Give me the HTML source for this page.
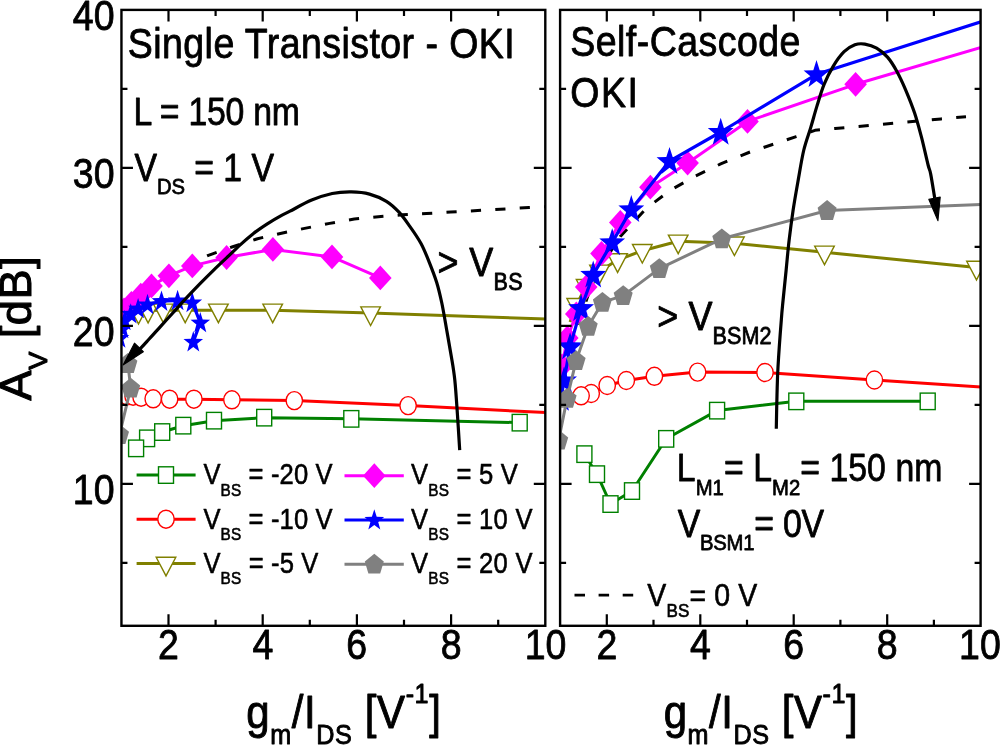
<!DOCTYPE html><html><head><meta charset="utf-8"><title>Av vs gm/IDS</title>
<style>html,body{margin:0;padding:0;background:#fff}svg{display:block}text{font-family:'Liberation Sans', Arial, sans-serif;fill:#000;stroke:#000;stroke-linejoin:round;white-space:pre}</style></head><body>
<svg width="1000" height="747" viewBox="0 0 1000 747">
<rect width="1000" height="747" fill="#fff"/>
<defs><clipPath id="c1"><rect x="121.45" y="9.9" width="423.84999999999997" height="615.9"/></clipPath><clipPath id="c2"><rect x="560.1" y="9.9" width="420.5" height="615.9"/></clipPath></defs>
<g clip-path="url(#c1)">
<polyline points="122.0,331.0 128.0,322.0 134.0,311.0 142.0,297.0 156.0,281.0 180.0,268.0 208.4,255.3 232.0,247.0 257.5,238.7 281.5,233.2 304.6,228.4 329.7,223.4 354.3,219.0 378.4,216.7 402.5,214.8 426.6,213.6 450.7,212.1 470.0,211.0 529.0,207.5 546.0,206.7" fill="none" stroke="#000" stroke-width="3" stroke-dasharray="10.2 14.25" stroke-dashoffset="4.56" stroke-linejoin="round"/>
<polyline points="123.0,322.0 127.0,316.0 133.0,313.0 138.5,311.5 148.1,310.5 163.3,310.3 185.2,310.3 218.4,310.3 272.7,310.3 370.6,313.1 546.0,318.9" fill="none" stroke="#808000" stroke-width="3.0" stroke-linejoin="round"/>
<polygon points="128.7,305.3 148.3,305.3 138.5,323.9" fill="#fff" stroke="#808000" stroke-width="1.4"/>
<polygon points="138.3,304.3 157.9,304.3 148.1,322.9" fill="#fff" stroke="#808000" stroke-width="1.4"/>
<polygon points="153.5,304.1 173.1,304.1 163.3,322.7" fill="#fff" stroke="#808000" stroke-width="1.4"/>
<polygon points="175.4,304.1 195.0,304.1 185.2,322.7" fill="#fff" stroke="#808000" stroke-width="1.4"/>
<polygon points="208.6,304.1 228.2,304.1 218.4,322.7" fill="#fff" stroke="#808000" stroke-width="1.4"/>
<polygon points="262.9,304.1 282.5,304.1 272.7,322.7" fill="#fff" stroke="#808000" stroke-width="1.4"/>
<polygon points="360.8,306.9 380.4,306.9 370.6,325.5" fill="#fff" stroke="#808000" stroke-width="1.4"/>
<polyline points="136.1,448.4 147.1,438.4 162.2,432.0 183.3,425.7 214.0,420.7 264.2,417.7 351.3,418.8 519.7,422.6" fill="none" stroke="#008000" stroke-width="3.0" stroke-linejoin="round"/>
<rect x="139.6" y="430.1" width="15" height="16.5" fill="#fff" stroke="#008000" stroke-width="1.4"/>
<rect x="128.6" y="440.1" width="15" height="16.5" fill="#fff" stroke="#008000" stroke-width="1.4"/>
<rect x="154.7" y="423.8" width="15" height="16.5" fill="#fff" stroke="#008000" stroke-width="1.4"/>
<rect x="175.8" y="417.4" width="15" height="16.5" fill="#fff" stroke="#008000" stroke-width="1.4"/>
<rect x="206.5" y="412.4" width="15" height="16.5" fill="#fff" stroke="#008000" stroke-width="1.4"/>
<rect x="256.7" y="409.4" width="15" height="16.5" fill="#fff" stroke="#008000" stroke-width="1.4"/>
<rect x="343.8" y="410.6" width="15" height="16.5" fill="#fff" stroke="#008000" stroke-width="1.4"/>
<rect x="512.2" y="414.4" width="15" height="16.5" fill="#fff" stroke="#008000" stroke-width="1.4"/>
<polyline points="127.0,395.8 133.1,396.2 141.1,397.2 153.2,398.8 169.6,399.2 193.9,399.2 231.9,399.8 294.3,400.6 408.1,405.6 546.0,412.6" fill="none" stroke="#ff0000" stroke-width="3.0" stroke-linejoin="round"/>
<ellipse cx="127.0" cy="395.8" rx="8.2" ry="9.02" fill="#fff" stroke="#ff0000" stroke-width="1.4"/>
<ellipse cx="133.1" cy="396.2" rx="8.2" ry="9.02" fill="#fff" stroke="#ff0000" stroke-width="1.4"/>
<ellipse cx="141.1" cy="397.2" rx="8.2" ry="9.02" fill="#fff" stroke="#ff0000" stroke-width="1.4"/>
<ellipse cx="153.2" cy="398.8" rx="8.2" ry="9.02" fill="#fff" stroke="#ff0000" stroke-width="1.4"/>
<ellipse cx="169.6" cy="399.2" rx="8.2" ry="9.02" fill="#fff" stroke="#ff0000" stroke-width="1.4"/>
<ellipse cx="193.9" cy="399.2" rx="8.2" ry="9.02" fill="#fff" stroke="#ff0000" stroke-width="1.4"/>
<ellipse cx="231.9" cy="399.8" rx="8.2" ry="9.02" fill="#fff" stroke="#ff0000" stroke-width="1.4"/>
<ellipse cx="294.3" cy="400.6" rx="8.2" ry="9.02" fill="#fff" stroke="#ff0000" stroke-width="1.4"/>
<ellipse cx="408.1" cy="405.6" rx="8.2" ry="9.02" fill="#fff" stroke="#ff0000" stroke-width="1.4"/>
<polyline points="120.0,315.0 124.0,310.0 131.4,303.3 140.8,295.2 151.5,285.9 168.9,275.8 192.3,265.9 226.6,257.5 272.9,249.4 332.0,256.9 380.3,277.9" fill="none" stroke="#ff00ff" stroke-width="3.0" stroke-linejoin="round"/>
<polygon points="120.0,302.6 131.3,315.0 120.0,327.4 108.7,315.0" fill="#ff00ff"/>
<polygon points="124.0,297.6 135.3,310.0 124.0,322.4 112.7,310.0" fill="#ff00ff"/>
<polygon points="131.4,290.9 142.7,303.3 131.4,315.7 120.1,303.3" fill="#ff00ff"/>
<polygon points="140.8,282.8 152.1,295.2 140.8,307.6 129.5,295.2" fill="#ff00ff"/>
<polygon points="151.5,273.5 162.8,285.9 151.5,298.3 140.2,285.9" fill="#ff00ff"/>
<polygon points="168.9,263.4 180.2,275.8 168.9,288.2 157.6,275.8" fill="#ff00ff"/>
<polygon points="192.3,253.5 203.6,265.9 192.3,278.3 181.0,265.9" fill="#ff00ff"/>
<polygon points="226.6,245.1 237.9,257.5 226.6,269.9 215.3,257.5" fill="#ff00ff"/>
<polygon points="272.9,237.0 284.2,249.4 272.9,261.8 261.6,249.4" fill="#ff00ff"/>
<polygon points="332.0,244.5 343.3,256.9 332.0,269.3 320.7,256.9" fill="#ff00ff"/>
<polygon points="380.3,265.5 391.6,277.9 380.3,290.3 369.0,277.9" fill="#ff00ff"/>
<polyline points="119.5,338.0 122.5,328.5 124.7,320.5 130.7,313.9 138.1,308.6 147.5,304.5 161.5,301.2 177.6,300.5 192.3,302.5 200.3,322.6 193.3,341.8" fill="none" stroke="#0000ff" stroke-width="3.2" stroke-linejoin="round"/>
<polygon points="119.5,327.3 121.9,334.9 129.3,335.1 123.4,340.0 125.5,347.7 119.5,343.1 113.5,347.7 115.6,340.0 109.7,335.1 117.1,334.9" fill="#0000ff"/>
<polygon points="122.5,317.8 124.9,325.4 132.3,325.6 126.4,330.5 128.5,338.2 122.5,333.6 116.5,338.2 118.6,330.5 112.7,325.6 120.1,325.4" fill="#0000ff"/>
<polygon points="124.7,309.8 127.1,317.4 134.5,317.6 128.6,322.5 130.7,330.2 124.7,325.6 118.7,330.2 120.8,322.5 114.9,317.6 122.3,317.4" fill="#0000ff"/>
<polygon points="130.7,303.2 133.1,310.8 140.5,311.0 134.6,315.9 136.7,323.6 130.7,319.0 124.7,323.6 126.8,315.9 120.9,311.0 128.3,310.8" fill="#0000ff"/>
<polygon points="138.1,297.9 140.5,305.5 147.9,305.7 142.0,310.6 144.1,318.3 138.1,313.7 132.1,318.3 134.2,310.6 128.3,305.7 135.7,305.5" fill="#0000ff"/>
<polygon points="147.5,293.8 149.9,301.4 157.3,301.6 151.4,306.5 153.5,314.2 147.5,309.6 141.5,314.2 143.6,306.5 137.7,301.6 145.1,301.4" fill="#0000ff"/>
<polygon points="161.5,290.5 163.9,298.1 171.3,298.3 165.4,303.2 167.5,310.9 161.5,306.3 155.5,310.9 157.6,303.2 151.7,298.3 159.1,298.1" fill="#0000ff"/>
<polygon points="177.6,289.8 180.0,297.4 187.4,297.6 181.5,302.5 183.6,310.2 177.6,305.6 171.6,310.2 173.7,302.5 167.8,297.6 175.2,297.4" fill="#0000ff"/>
<polygon points="192.3,291.8 194.7,299.4 202.1,299.6 196.2,304.5 198.3,312.2 192.3,307.6 186.3,312.2 188.4,304.5 182.5,299.6 189.9,299.4" fill="#0000ff"/>
<polygon points="200.3,311.9 202.7,319.5 210.1,319.7 204.2,324.6 206.3,332.3 200.3,327.7 194.3,332.3 196.4,324.6 190.5,319.7 197.9,319.5" fill="#0000ff"/>
<polygon points="193.3,331.1 195.7,338.7 203.1,338.9 197.2,343.8 199.3,351.5 193.3,346.9 187.3,351.5 189.4,343.8 183.5,338.9 190.9,338.7" fill="#0000ff"/>
<polyline points="119.5,434.5 130.7,388.2 127.9,363.5" fill="none" stroke="#808080" stroke-width="3.0" stroke-linejoin="round"/>
<polygon points="119.5,424.1 129.0,431.7 125.4,443.9 113.6,443.9 110.0,431.7" fill="#808080"/>
<polygon points="130.7,377.8 140.2,385.4 136.6,397.6 124.8,397.6 121.2,385.4" fill="#808080"/>
<polygon points="127.9,353.1 137.4,360.7 133.8,372.9 122.0,372.9 118.4,360.7" fill="#808080"/>
</g>
<path d="M459.7,450.1 C459.3,444.1 458.2,425.7 457.4,414.0 C456.6,402.3 455.8,389.5 454.8,380.0 C453.8,370.5 452.8,365.3 451.4,357.0 C450.0,348.7 448.3,339.1 446.7,330.0 C445.1,320.9 443.4,310.4 441.7,302.5 C440.0,294.6 438.8,289.1 436.7,282.4 C434.6,275.7 431.9,268.8 429.3,262.3 C426.7,255.8 424.2,249.4 421.0,243.5 C417.8,237.6 413.7,231.8 410.0,226.6 C406.3,221.4 402.9,216.4 399.0,212.2 C395.1,208.0 391.3,204.3 386.4,201.3 C381.5,198.3 375.3,195.7 369.5,194.1 C363.7,192.5 357.6,192.0 351.4,191.9 C345.2,191.8 338.8,192.1 332.2,193.5 C325.6,194.9 318.7,197.2 311.7,200.1 C304.7,203.0 295.2,208.5 290.0,211.2 C284.8,213.9 284.2,213.9 280.3,216.1 C276.4,218.2 271.4,221.2 266.9,224.1 C262.4,227.0 257.9,230.0 253.5,233.5 C249.1,237.0 244.6,240.9 240.2,244.9 C235.8,248.9 231.3,253.4 226.8,257.6 C222.3,261.8 217.8,266.0 213.4,270.3 C209.0,274.6 204.7,278.9 200.3,283.4 C195.9,287.9 191.4,292.6 186.9,297.4 C182.4,302.2 177.9,307.3 173.5,312.2 C169.1,317.1 164.6,322.0 160.2,326.9 C155.8,331.8 150.2,337.8 146.8,341.6 C143.4,345.4 140.7,348.2 139.5,349.5" fill="none" stroke="#000" stroke-width="3.2"/>
<polygon points="123.3,364.8 134.5,343.2 143.3,351.8" stroke="#000" stroke-width="1.2" stroke-linejoin="round" fill="#000"/>
<g clip-path="url(#c2)">
<polyline points="561.0,392.0 566.0,370.0 572.0,345.0 580.0,318.0 590.0,290.0 600.0,268.0 620.3,236.4 646.4,208.2 670.5,190.2 694.6,176.5 720.7,163.9 750.0,152.0 775.0,143.7 796.2,136.6 815.0,130.3 835.1,128.5 883.0,124.2 941.0,118.9 966.0,116.7" fill="none" stroke="#000" stroke-width="3" stroke-dasharray="10.2 14.3" stroke-dashoffset="3.98" stroke-linejoin="round"/>
<polyline points="570.0,322.0 576.7,304.7 586.1,285.7 599.5,271.3 617.6,260.0 642.3,250.7 678.2,241.3 734.4,243.2 824.5,252.3 976.5,267.5" fill="none" stroke="#808000" stroke-width="3.0" stroke-linejoin="round"/>
<polygon points="566.9,298.5 586.5,298.5 576.7,317.1" fill="#fff" stroke="#808000" stroke-width="1.4"/>
<polygon points="576.3,279.5 595.9,279.5 586.1,298.1" fill="#fff" stroke="#808000" stroke-width="1.4"/>
<polygon points="589.7,265.1 609.3,265.1 599.5,283.7" fill="#fff" stroke="#808000" stroke-width="1.4"/>
<polygon points="607.8,253.8 627.4,253.8 617.6,272.4" fill="#fff" stroke="#808000" stroke-width="1.4"/>
<polygon points="632.5,244.5 652.1,244.5 642.3,263.1" fill="#fff" stroke="#808000" stroke-width="1.4"/>
<polygon points="668.4,235.1 688.0,235.1 678.2,253.7" fill="#fff" stroke="#808000" stroke-width="1.4"/>
<polygon points="724.6,237.0 744.2,237.0 734.4,255.6" fill="#fff" stroke="#808000" stroke-width="1.4"/>
<polygon points="814.7,246.1 834.3,246.1 824.5,264.7" fill="#fff" stroke="#808000" stroke-width="1.4"/>
<polygon points="966.7,261.3 986.3,261.3 976.5,279.9" fill="#fff" stroke="#808000" stroke-width="1.4"/>
<polyline points="584.4,454.2 597.0,474.2 610.5,504.0 632.0,491.0 666.2,438.8 717.1,410.6 796.3,401.3 927.7,401.3" fill="none" stroke="#008000" stroke-width="3.0" stroke-linejoin="round"/>
<rect x="576.9" y="445.9" width="15" height="16.5" fill="#fff" stroke="#008000" stroke-width="1.4"/>
<rect x="589.5" y="465.9" width="15" height="16.5" fill="#fff" stroke="#008000" stroke-width="1.4"/>
<rect x="603.0" y="495.8" width="15" height="16.5" fill="#fff" stroke="#008000" stroke-width="1.4"/>
<rect x="624.5" y="482.8" width="15" height="16.5" fill="#fff" stroke="#008000" stroke-width="1.4"/>
<rect x="658.7" y="430.6" width="15" height="16.5" fill="#fff" stroke="#008000" stroke-width="1.4"/>
<rect x="709.6" y="402.4" width="15" height="16.5" fill="#fff" stroke="#008000" stroke-width="1.4"/>
<rect x="788.8" y="393.1" width="15" height="16.5" fill="#fff" stroke="#008000" stroke-width="1.4"/>
<rect x="920.2" y="393.1" width="15" height="16.5" fill="#fff" stroke="#008000" stroke-width="1.4"/>
<polyline points="567.0,399.0 581.1,395.8 591.2,393.5 607.2,385.5 626.3,380.5 654.4,376.3 697.6,372.1 765.0,372.5 874.4,380.0 981.0,387.0" fill="none" stroke="#ff0000" stroke-width="3.0" stroke-linejoin="round"/>
<ellipse cx="874.4" cy="380.0" rx="8.2" ry="9.02" fill="#fff" stroke="#ff0000" stroke-width="1.4"/>
<ellipse cx="765.0" cy="372.5" rx="8.2" ry="9.02" fill="#fff" stroke="#ff0000" stroke-width="1.4"/>
<ellipse cx="697.6" cy="372.1" rx="8.2" ry="9.02" fill="#fff" stroke="#ff0000" stroke-width="1.4"/>
<ellipse cx="654.4" cy="376.3" rx="8.2" ry="9.02" fill="#fff" stroke="#ff0000" stroke-width="1.4"/>
<ellipse cx="626.3" cy="380.5" rx="8.2" ry="9.02" fill="#fff" stroke="#ff0000" stroke-width="1.4"/>
<ellipse cx="607.2" cy="385.5" rx="8.2" ry="9.02" fill="#fff" stroke="#ff0000" stroke-width="1.4"/>
<ellipse cx="591.2" cy="393.5" rx="8.2" ry="9.02" fill="#fff" stroke="#ff0000" stroke-width="1.4"/>
<ellipse cx="581.1" cy="395.8" rx="8.2" ry="9.02" fill="#fff" stroke="#ff0000" stroke-width="1.4"/>
<polyline points="562.0,366.0 567.3,338.0 576.3,314.0 586.2,287.0 601.5,253.5 620.3,222.4 650.4,187.2 687.6,163.1 747.5,121.4 855.6,84.3 981.0,47.5" fill="none" stroke="#ff00ff" stroke-width="3.0" stroke-linejoin="round"/>
<polygon points="562.0,353.6 573.3,366.0 562.0,378.4 550.7,366.0" fill="#ff00ff"/>
<polygon points="567.3,325.6 578.6,338.0 567.3,350.4 556.0,338.0" fill="#ff00ff"/>
<polygon points="576.3,301.6 587.6,314.0 576.3,326.4 565.0,314.0" fill="#ff00ff"/>
<polygon points="586.2,274.6 597.5,287.0 586.2,299.4 574.9,287.0" fill="#ff00ff"/>
<polygon points="601.5,241.1 612.8,253.5 601.5,265.9 590.2,253.5" fill="#ff00ff"/>
<polygon points="620.3,210.0 631.6,222.4 620.3,234.8 609.0,222.4" fill="#ff00ff"/>
<polygon points="650.4,174.8 661.7,187.2 650.4,199.6 639.1,187.2" fill="#ff00ff"/>
<polygon points="687.6,150.7 698.9,163.1 687.6,175.5 676.3,163.1" fill="#ff00ff"/>
<polygon points="747.5,109.0 758.8,121.4 747.5,133.8 736.2,121.4" fill="#ff00ff"/>
<polygon points="855.6,71.9 866.9,84.3 855.6,96.7 844.3,84.3" fill="#ff00ff"/>
<polyline points="561.0,398.0 564.1,380.5 570.1,346.4 581.1,308.2 593.2,274.8 612.2,242.4 631.3,209.3 669.5,161.1 720.7,132.0 816.5,74.3 981.0,21.8" fill="none" stroke="#0000ff" stroke-width="3.2" stroke-linejoin="round"/>
<polygon points="561.0,383.8 564.2,393.9 573.9,394.1 566.2,400.6 569.0,410.8 561.0,404.7 553.0,410.8 555.8,400.6 548.1,394.1 557.8,393.9" fill="#0000ff"/>
<polygon points="564.1,366.3 567.3,376.4 577.0,376.6 569.3,383.1 572.1,393.3 564.1,387.2 556.1,393.3 558.9,383.1 551.2,376.6 560.9,376.4" fill="#0000ff"/>
<polygon points="570.1,332.2 573.3,342.3 583.0,342.5 575.3,349.0 578.1,359.2 570.1,353.1 562.1,359.2 564.9,349.0 557.2,342.5 566.9,342.3" fill="#0000ff"/>
<polygon points="581.1,294.0 584.3,304.1 594.0,304.3 586.3,310.8 589.1,321.0 581.1,314.9 573.1,321.0 575.9,310.8 568.2,304.3 577.9,304.1" fill="#0000ff"/>
<polygon points="593.2,260.6 596.4,270.7 606.1,270.9 598.4,277.4 601.2,287.6 593.2,281.5 585.2,287.6 588.0,277.4 580.3,270.9 590.0,270.7" fill="#0000ff"/>
<polygon points="612.2,228.2 615.4,238.3 625.1,238.5 617.4,245.0 620.2,255.2 612.2,249.1 604.2,255.2 607.0,245.0 599.3,238.5 609.0,238.3" fill="#0000ff"/>
<polygon points="631.3,195.1 634.5,205.2 644.2,205.4 636.5,211.9 639.3,222.1 631.3,216.0 623.3,222.1 626.1,211.9 618.4,205.4 628.1,205.2" fill="#0000ff"/>
<polygon points="669.5,146.9 672.7,157.0 682.4,157.2 674.7,163.7 677.5,173.9 669.5,167.8 661.5,173.9 664.3,163.7 656.6,157.2 666.3,157.0" fill="#0000ff"/>
<polygon points="720.7,117.8 723.9,127.9 733.6,128.1 725.9,134.6 728.7,144.8 720.7,138.7 712.7,144.8 715.5,134.6 707.8,128.1 717.5,127.9" fill="#0000ff"/>
<polygon points="816.5,60.1 819.7,70.2 829.4,70.4 821.7,76.9 824.5,87.1 816.5,81.0 808.5,87.1 811.3,76.9 803.6,70.4 813.3,70.2" fill="#0000ff"/>
<polyline points="558.7,440.2 567.1,398.4 576.1,360.7 588.2,326.3 602.4,302.4 623.2,295.6 659.3,268.6 721.8,238.8 827.1,210.5 981.0,204.5" fill="none" stroke="#808080" stroke-width="3.0" stroke-linejoin="round"/>
<polygon points="558.7,429.8 568.2,437.4 564.6,449.6 552.8,449.6 549.2,437.4" fill="#808080"/>
<polygon points="567.1,388.0 576.6,395.6 573.0,407.8 561.2,407.8 557.6,395.6" fill="#808080"/>
<polygon points="576.1,350.3 585.6,357.9 582.0,370.1 570.2,370.1 566.6,357.9" fill="#808080"/>
<polygon points="588.2,315.9 597.7,323.5 594.1,335.7 582.3,335.7 578.7,323.5" fill="#808080"/>
<polygon points="602.4,292.0 611.9,299.6 608.3,311.8 596.5,311.8 592.9,299.6" fill="#808080"/>
<polygon points="623.2,285.2 632.7,292.8 629.1,305.0 617.3,305.0 613.7,292.8" fill="#808080"/>
<polygon points="659.3,258.2 668.8,265.8 665.2,278.0 653.4,278.0 649.8,265.8" fill="#808080"/>
<polygon points="721.8,228.4 731.3,236.0 727.7,248.2 715.9,248.2 712.3,236.0" fill="#808080"/>
<polygon points="827.1,200.1 836.6,207.7 833.0,219.9 821.2,219.9 817.6,207.7" fill="#808080"/>
</g>
<path d="M776.3,428.8 C776.4,423.2 776.7,405.3 777.0,395.0 C777.3,384.7 777.3,379.5 778.0,367.0 C778.7,354.5 780.4,331.3 781.3,320.1 C782.1,308.9 782.3,308.3 783.1,300.0 C783.9,291.7 785.1,280.4 786.1,270.5 C787.1,260.6 787.9,250.4 789.1,240.4 C790.3,230.4 791.6,220.4 793.1,210.3 C794.6,200.2 796.4,190.2 798.2,180.1 C800.0,170.0 801.7,158.8 803.8,150.0 C805.9,141.2 808.5,134.9 810.7,127.6 C812.9,120.2 814.8,113.1 817.0,105.9 C819.2,98.7 821.5,90.8 824.2,84.2 C826.9,77.6 830.0,71.5 833.3,66.1 C836.6,60.7 840.5,55.2 844.1,51.7 C847.7,48.2 851.4,46.1 854.9,44.8 C858.4,43.5 861.3,43.5 864.9,44.1 C868.5,44.7 872.8,45.9 876.6,48.1 C880.4,50.3 884.2,53.3 887.5,57.1 C890.8,60.9 893.5,65.3 896.5,70.7 C899.5,76.1 902.5,82.5 905.5,89.6 C908.5,96.7 911.9,105.0 914.6,113.1 C917.3,121.2 919.5,129.8 921.8,138.4 C924.0,147.1 926.6,159.1 928.1,165.0 C929.6,170.9 929.6,168.6 930.7,174.1 C931.8,179.6 934.0,194.0 934.7,198.0" fill="none" stroke="#000" stroke-width="3.2"/>
<polygon points="937.9,220.6 928.9,199.4 940.2,197" stroke="#000" stroke-width="1.2" stroke-linejoin="round" fill="#000"/>
<rect x="121.45" y="9.9" width="423.85" height="615.90" fill="none" stroke="#000" stroke-width="2.4"/>
<path d="M168.5,625.8v-11.5M168.5,9.9v11.5" stroke="#000" stroke-width="2.2"/>
<path d="M215.6,625.8v-6M215.6,9.9v6" stroke="#000" stroke-width="2.2"/>
<path d="M262.7,625.8v-11.5M262.7,9.9v11.5" stroke="#000" stroke-width="2.2"/>
<path d="M309.8,625.8v-6M309.8,9.9v6" stroke="#000" stroke-width="2.2"/>
<path d="M356.9,625.8v-11.5M356.9,9.9v11.5" stroke="#000" stroke-width="2.2"/>
<path d="M404.0,625.8v-6M404.0,9.9v6" stroke="#000" stroke-width="2.2"/>
<path d="M451.1,625.8v-11.5M451.1,9.9v11.5" stroke="#000" stroke-width="2.2"/>
<path d="M498.2,625.8v-6M498.2,9.9v6" stroke="#000" stroke-width="2.2"/>
<path d="M121.45,562.8h6M545.3,562.8h-6" stroke="#000" stroke-width="2.3"/>
<path d="M121.45,483.8h11.5M545.3,483.8h-11.5" stroke="#000" stroke-width="2.3"/>
<path d="M121.45,404.8h6M545.3,404.8h-6" stroke="#000" stroke-width="2.3"/>
<path d="M121.45,325.8h11.5M545.3,325.8h-11.5" stroke="#000" stroke-width="2.3"/>
<path d="M121.45,246.8h6M545.3,246.8h-6" stroke="#000" stroke-width="2.3"/>
<path d="M121.45,167.8h11.5M545.3,167.8h-11.5" stroke="#000" stroke-width="2.3"/>
<path d="M121.45,88.8h6M545.3,88.8h-6" stroke="#000" stroke-width="2.3"/>
<rect x="560.1" y="9.9" width="420.50" height="615.90" fill="none" stroke="#000" stroke-width="2.4"/>
<path d="M606.8,625.8v-11.5M606.8,9.9v11.5" stroke="#000" stroke-width="2.2"/>
<path d="M653.5,625.8v-6M653.5,9.9v6" stroke="#000" stroke-width="2.2"/>
<path d="M700.3,625.8v-11.5M700.3,9.9v11.5" stroke="#000" stroke-width="2.2"/>
<path d="M747.0,625.8v-6M747.0,9.9v6" stroke="#000" stroke-width="2.2"/>
<path d="M793.7,625.8v-11.5M793.7,9.9v11.5" stroke="#000" stroke-width="2.2"/>
<path d="M840.4,625.8v-6M840.4,9.9v6" stroke="#000" stroke-width="2.2"/>
<path d="M887.2,625.8v-11.5M887.2,9.9v11.5" stroke="#000" stroke-width="2.2"/>
<path d="M933.9,625.8v-6M933.9,9.9v6" stroke="#000" stroke-width="2.2"/>
<path d="M560.1,562.8h6M980.6,562.8h-6" stroke="#000" stroke-width="2.3"/>
<path d="M560.1,483.8h11.5M980.6,483.8h-11.5" stroke="#000" stroke-width="2.3"/>
<path d="M560.1,404.8h6M980.6,404.8h-6" stroke="#000" stroke-width="2.3"/>
<path d="M560.1,325.8h11.5M980.6,325.8h-11.5" stroke="#000" stroke-width="2.3"/>
<path d="M560.1,246.8h6M980.6,246.8h-6" stroke="#000" stroke-width="2.3"/>
<path d="M560.1,167.8h11.5M980.6,167.8h-11.5" stroke="#000" stroke-width="2.3"/>
<path d="M560.1,88.8h6M980.6,88.8h-6" stroke="#000" stroke-width="2.3"/>
<text transform="translate(72.85,503.80) scale(1,1.121)" letter-spacing="0.000" stroke-width="0.75" xml:space="preserve"><tspan dy="0.00" font-size="37.50">10</tspan></text>
<text transform="translate(72.85,345.80) scale(1,1.121)" letter-spacing="0.000" stroke-width="0.75" xml:space="preserve"><tspan dy="0.00" font-size="37.50">20</tspan></text>
<text transform="translate(72.85,187.80) scale(1,1.121)" letter-spacing="0.000" stroke-width="0.75" xml:space="preserve"><tspan dy="0.00" font-size="37.50">30</tspan></text>
<text transform="translate(72.85,29.80) scale(1,1.121)" letter-spacing="0.000" stroke-width="0.75" xml:space="preserve"><tspan dy="0.00" font-size="37.50">40</tspan></text>
<text transform="translate(158.12,659.00) scale(1,1.121)" letter-spacing="0.000" stroke-width="0.75" xml:space="preserve"><tspan dy="0.00" font-size="37.50">2</tspan></text>
<text transform="translate(596.39,659.00) scale(1,1.121)" letter-spacing="0.000" stroke-width="0.75" xml:space="preserve"><tspan dy="0.00" font-size="37.50">2</tspan></text>
<text transform="translate(252.42,659.00) scale(1,1.121)" letter-spacing="0.000" stroke-width="0.75" xml:space="preserve"><tspan dy="0.00" font-size="37.50">4</tspan></text>
<text transform="translate(689.96,659.00) scale(1,1.121)" letter-spacing="0.000" stroke-width="0.75" xml:space="preserve"><tspan dy="0.00" font-size="37.50">4</tspan></text>
<text transform="translate(346.37,659.00) scale(1,1.121)" letter-spacing="0.000" stroke-width="0.75" xml:space="preserve"><tspan dy="0.00" font-size="37.50">6</tspan></text>
<text transform="translate(783.16,659.00) scale(1,1.121)" letter-spacing="0.000" stroke-width="0.75" xml:space="preserve"><tspan dy="0.00" font-size="37.50">6</tspan></text>
<text transform="translate(440.68,659.00) scale(1,1.121)" letter-spacing="0.000" stroke-width="0.75" xml:space="preserve"><tspan dy="0.00" font-size="37.50">8</tspan></text>
<text transform="translate(876.73,659.00) scale(1,1.121)" letter-spacing="0.000" stroke-width="0.75" xml:space="preserve"><tspan dy="0.00" font-size="37.50">8</tspan></text>
<text transform="translate(524.75,659.00) scale(1,1.121)" letter-spacing="0.000" stroke-width="0.75" xml:space="preserve"><tspan dy="0.00" font-size="37.50">10</tspan></text>
<text transform="translate(959.05,659.00) scale(1,1.121)" letter-spacing="0.000" stroke-width="0.75" xml:space="preserve"><tspan dy="0.00" font-size="37.50">10</tspan></text>
<text transform="translate(246.24,727.70) scale(1,1.121)" letter-spacing="0.594" stroke-width="0.84" xml:space="preserve"><tspan dy="0.00" font-size="42.00">g</tspan><tspan dy="14.61" font-size="25.20">m</tspan><tspan dy="-14.61" font-size="42.00">/I</tspan><tspan dy="14.61" font-size="25.20">DS</tspan><tspan dy="-14.61" font-size="42.00"> [V</tspan><tspan dy="-22.48" font-size="25.20">-1</tspan><tspan dy="22.48" font-size="42.00">]</tspan></text>
<text transform="translate(663.64,727.70) scale(1,1.121)" letter-spacing="0.549" stroke-width="0.84" xml:space="preserve"><tspan dy="0.00" font-size="42.00">g</tspan><tspan dy="14.61" font-size="25.20">m</tspan><tspan dy="-14.61" font-size="42.00">/I</tspan><tspan dy="14.61" font-size="25.20">DS</tspan><tspan dy="-14.61" font-size="42.00"> [V</tspan><tspan dy="-22.48" font-size="25.20">-1</tspan><tspan dy="22.48" font-size="42.00">]</tspan></text>
<text transform="translate(31.3,400.49) rotate(-90) scale(1.077,1.0409)" letter-spacing="0.450" xml:space="preserve"><tspan font-size="42">A</tspan><tspan dy="14.73" font-size="25.20">V</tspan><tspan dy="-14.73" font-size="42"> [dB]</tspan></text>
<text transform="translate(127.80,57.60) scale(1,1.121)" letter-spacing="0.440" stroke-width="0.75" xml:space="preserve"><tspan dy="0.00" font-size="37.50">Single Transistor - OKI</tspan></text>
<text transform="translate(133.43,124.60) scale(1,1.121)" letter-spacing="-0.240" stroke-width="0.68" xml:space="preserve"><tspan dy="0.00" font-size="33.80">L = 150 nm</tspan></text>
<text transform="translate(134.45,181.00) scale(1,1.121)" letter-spacing="-0.059" stroke-width="0.68" xml:space="preserve"><tspan dy="0.00" font-size="33.80">V</tspan><tspan dy="11.76" font-size="20.28">DS</tspan><tspan dy="-11.76" font-size="33.80"> = 1 V</tspan></text>
<text transform="translate(437.62,276.20) scale(1,1.121)" letter-spacing="0.304" stroke-width="0.72" xml:space="preserve"><tspan dy="0.00" font-size="36.00">> V</tspan><tspan dy="12.52" font-size="21.60">BS</tspan></text>
<text transform="translate(570.30,56.40) scale(1,1.121)" letter-spacing="0.451" stroke-width="0.75" xml:space="preserve"><tspan dy="0.00" font-size="37.50">Self-Cascode</tspan></text>
<text transform="translate(570.22,106.80) scale(1,1.121)" letter-spacing="1.569" stroke-width="0.75" xml:space="preserve"><tspan dy="0.00" font-size="37.50">OKI</tspan></text>
<text transform="translate(657.32,329.80) scale(1,1.121)" letter-spacing="0.051" stroke-width="0.72" xml:space="preserve"><tspan dy="0.00" font-size="36.00">> V</tspan><tspan dy="12.52" font-size="21.60">BSM2</tspan></text>
<text transform="translate(676.83,481.40) scale(1,1.121)" letter-spacing="0.044" stroke-width="0.68" xml:space="preserve"><tspan dy="0.00" font-size="33.80">L</tspan><tspan dy="11.76" font-size="20.28">M1</tspan><tspan dy="-11.76" font-size="33.80">= L</tspan><tspan dy="11.76" font-size="20.28">M2</tspan><tspan dy="-11.76" font-size="33.80">= 150 nm</tspan></text>
<text transform="translate(677.65,537.00) scale(1,1.121)" letter-spacing="-0.218" stroke-width="0.68" xml:space="preserve"><tspan dy="0.00" font-size="33.80">V</tspan><tspan dy="11.76" font-size="20.28">BSM1</tspan><tspan dy="-11.76" font-size="33.80">= 0V</tspan></text>
<path d="M574.5,595.2h10.5M598.6,595.2h10.5M622.7,595.2h10.5" stroke="#000" stroke-width="2.8"/>
<text transform="translate(647.37,605.50) scale(1,1.121)" letter-spacing="0.099" stroke-width="0.57" xml:space="preserve"><tspan dy="0.00" font-size="28.50">V</tspan><tspan dy="9.92" font-size="17.10">BS</tspan><tspan dy="-9.92" font-size="28.50">= 0 V</tspan></text>
<path d="M136.6,475.0H195.6" stroke="#008000" stroke-width="3"/>
<rect x="158.5" y="466.8" width="15" height="16.5" fill="#fff" stroke="#008000" stroke-width="1.4"/>
<text transform="translate(203.39,484.30) scale(1,1.121)" letter-spacing="0.130" stroke-width="0.51" xml:space="preserve"><tspan dy="0.00" font-size="25.60">V</tspan><tspan dy="10.05" font-size="15.36">BS</tspan><tspan dy="-10.05" font-size="25.60"> = -20 V</tspan></text>
<path d="M136.6,519.2H195.6" stroke="#ff0000" stroke-width="3"/>
<ellipse cx="166.0" cy="519.2" rx="8.2" ry="9.02" fill="#fff" stroke="#ff0000" stroke-width="1.4"/>
<text transform="translate(203.39,528.50) scale(1,1.121)" letter-spacing="0.130" stroke-width="0.51" xml:space="preserve"><tspan dy="0.00" font-size="25.60">V</tspan><tspan dy="10.05" font-size="15.36">BS</tspan><tspan dy="-10.05" font-size="25.60"> = -10 V</tspan></text>
<path d="M136.6,563.5H195.6" stroke="#808000" stroke-width="3"/>
<polygon points="156.2,557.3 175.8,557.3 166.0,575.9" fill="#fff" stroke="#808000" stroke-width="1.4"/>
<text transform="translate(203.39,572.80) scale(1,1.121)" letter-spacing="0.148" stroke-width="0.51" xml:space="preserve"><tspan dy="0.00" font-size="25.60">V</tspan><tspan dy="10.05" font-size="15.36">BS</tspan><tspan dy="-10.05" font-size="25.60"> = -5 V</tspan></text>
<path d="M344.5,475.7H403.8" stroke="#ff00ff" stroke-width="3"/>
<polygon points="374.3,463.3 385.6,475.7 374.3,488.1 363.0,475.7" fill="#ff00ff"/>
<text transform="translate(410.89,484.30) scale(1,1.121)" letter-spacing="0.220" stroke-width="0.51" xml:space="preserve"><tspan dy="0.00" font-size="25.60">V</tspan><tspan dy="10.05" font-size="15.36">BS</tspan><tspan dy="-10.05" font-size="25.60"> = 5 V</tspan></text>
<path d="M344.5,519.9000000000001H403.8" stroke="#0000ff" stroke-width="3"/>
<polygon points="374.3,509.2 376.7,516.8 384.1,517.0 378.2,521.9 380.3,529.6 374.3,525.0 368.3,529.6 370.4,521.9 364.5,517.0 371.9,516.8" fill="#0000ff"/>
<text transform="translate(410.89,528.50) scale(1,1.121)" letter-spacing="0.247" stroke-width="0.51" xml:space="preserve"><tspan dy="0.00" font-size="25.60">V</tspan><tspan dy="10.05" font-size="15.36">BS</tspan><tspan dy="-10.05" font-size="25.60"> = 10 V</tspan></text>
<path d="M344.5,564.2H403.8" stroke="#808080" stroke-width="3"/>
<polygon points="374.3,553.8 383.8,561.4 380.2,573.6 368.4,573.6 364.8,561.4" fill="#808080"/>
<text transform="translate(410.89,572.80) scale(1,1.121)" letter-spacing="0.247" stroke-width="0.51" xml:space="preserve"><tspan dy="0.00" font-size="25.60">V</tspan><tspan dy="10.05" font-size="15.36">BS</tspan><tspan dy="-10.05" font-size="25.60"> = 20 V</tspan></text>
</svg></body></html>
